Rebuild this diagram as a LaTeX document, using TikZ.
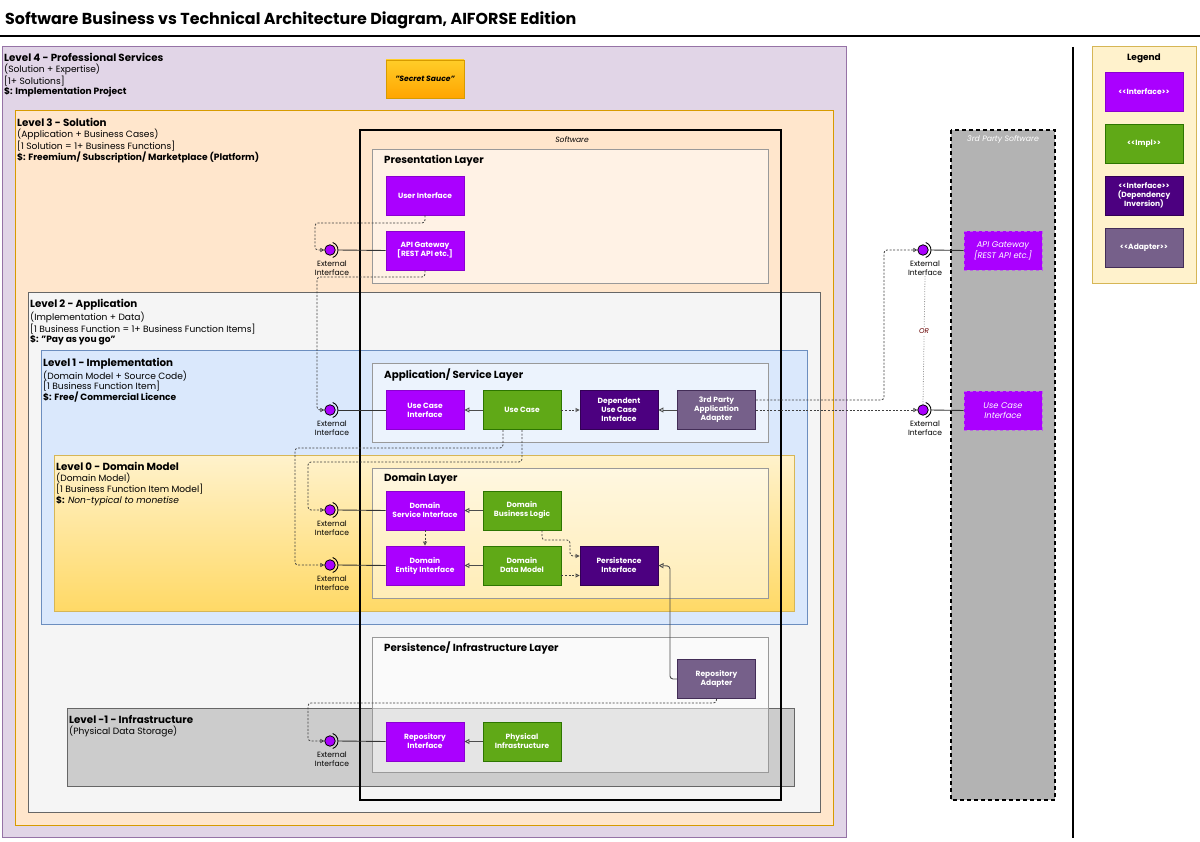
\documentclass[tikz,border=0pt]{standalone}
\usepackage{fontspec}
\setmainfont{Poppins}
\usetikzlibrary{arrows.meta}
\definecolor{ifc}{HTML}{AA00FF}
\definecolor{ifcd}{HTML}{8A00D0}
\definecolor{implc}{HTML}{60A917}
\definecolor{impld}{HTML}{2D7600}
\definecolor{dic}{HTML}{4C0080}
\definecolor{did}{HTML}{330055}
\definecolor{adc}{HTML}{76608A}
\definecolor{add}{HTML}{432D57}
\definecolor{lvfour}{HTML}{E1D5E7}
\definecolor{lvfourd}{HTML}{9673A6}
\definecolor{lvthree}{HTML}{FFE6CC}
\definecolor{lvthreed}{HTML}{D79B00}
\definecolor{lvtwo}{HTML}{F5F5F5}
\definecolor{lvtwod}{HTML}{666666}
\definecolor{lvone}{HTML}{DAE8FC}
\definecolor{lvoned}{HTML}{6C8EBF}
\definecolor{lvzeroa}{HTML}{FFF2CC}
\definecolor{lvzerob}{HTML}{FFD966}
\definecolor{lvzerod}{HTML}{D6B656}
\definecolor{lvm}{HTML}{CCCCCC}
\definecolor{third}{HTML}{B3B3B3}
\definecolor{legf}{HTML}{FFF2CC}
\definecolor{ordark}{HTML}{660000}
\definecolor{saucea}{HTML}{FFCD28}
\definecolor{sauceb}{HTML}{FFA500}
\newcommand{\lvheadfont}{\bfseries\fontsize{10.3}{10.7}\selectfont}
\newcommand{\ExtIf}[3]{%
  \node[eicirc] (#1) at (#2,#3) {};
  \draw[line width=0.9pt] (#2,#3) ++(70:8) arc[start angle=70,end angle=-70,radius=8];
  \node[eilabel] (#1l) at (#2+2,#3+18.5) {External\\Interface};
  \coordinate (#1s) at (#2+8,#3);
}
\begin{document}
\begin{tikzpicture}[x=1pt,y=-1pt,
  every node/.style={inner sep=0pt},
  comp/.style={rectangle, draw, line width=0.9pt, minimum width=78, minimum height=39,
    align=center, text=white, font=\bfseries\fontsize{7.5}{9}\selectfont},
  iface/.style={comp, fill=ifc, draw=ifcd},
  impl/.style={comp, fill=implc, draw=impld},
  dinv/.style={comp, fill=dic, draw=did},
  adapt/.style={comp, fill=adc, draw=add},
  tpiface/.style={comp, fill=ifc, draw=ifcd!60!white, dashed, font=\itshape\fontsize{8.3}{9.5}\selectfont},
  eicirc/.style={circle, draw=black, fill=ifc, line width=0.8pt, minimum size=10.5pt, inner sep=0pt},
  eilabel/.style={align=center, font=\fontsize{7.6}{9}\selectfont},
  lvtext/.style={anchor=north west, align=left, font=\fontsize{9.1}{10.7}\selectfont},
  ltitle/.style={anchor=west, font=\bfseries\fontsize{10.3}{11}\selectfont},
  layer/.style={draw=black!40, line width=1pt, fill=white, fill opacity=0.5},
  conn/.style={draw=black!80, line width=0.9pt},
  real/.style={draw=black!70, line width=0.9pt, -{Triangle[open,length=5pt,width=5pt]}},
  dep/.style={draw=black!75, line width=0.8pt, dash pattern=on 2pt off 1.6pt, rounded corners=3pt, -{Triangle[open,length=4pt,width=4pt]}}
]
\useasboundingbox (0,0) rectangle (1200,842);
\fill[white] (0,0) rectangle (1200,842);

% title
\node[anchor=west, font=\bfseries\fontsize{15.9}{18}\selectfont] (title) at (5,20) {Software Business vs Technical Architecture Diagram, AIFORSE Edition};
\draw[line width=2.5pt] (0,36) -- (1200,36);
\draw[line width=2.5pt] (1073,47) -- (1073,838);

% levels
\draw[fill=lvfour, draw=lvfourd, line width=1pt] (2,47) rectangle (846,837);
\node[lvtext] (l4t) at (4,53) {{\lvheadfont Level 4 - Professional Services}\\(Solution + Expertise)\\{[}1+ Solutions{]}\\\textbf{\$: Implementation Project}};

\draw[fill=lvthree, draw=lvthreed, line width=1pt] (15,111) rectangle (833,825);
\node[lvtext] (l3t) at (17,118.5) {{\lvheadfont Level 3 - Solution}\\(Application + Business Cases)\\{[}1 Solution = 1+ Business Functions{]}\\\textbf{\$: Freemium/ Subscription/ Marketplace (Platform)}};

\draw[fill=lvtwo, draw=lvtwod, line width=1pt] (28,293) rectangle (820,812);
\node[lvtext] (l2t) at (30,299.5) {{\lvheadfont Level 2 - Application}\\(Implementation + Data)\\{[}1 Business Function = 1+ Business Function Items{]}\\\textbf{\$: "Pay as you go"}};

\draw[fill=lvone, draw=lvoned, line width=1pt] (41,351) rectangle (807,624);
\node[lvtext] (l1t) at (43,358.5) {{\lvheadfont Level 1 - Implementation}\\(Domain Model + Source Code)\\{[}1 Business Function Item{]}\\\textbf{\$: Free/ Commercial Licence}};

\path[draw=lvzerod, line width=1pt, top color=lvzeroa, bottom color=lvzerob] (54,455) rectangle (794,611);
\node[lvtext] (l0t) at (56,462.5) {{\lvheadfont Level 0 - Domain Model}\\(Domain Model)\\{[}1 Business Function Item Model{]}\\\textbf{\$:} \textit{Non-typical to monetise}};

\draw[fill=lvm, draw=lvtwod, line width=1pt] (67,708) rectangle (794,786);
\node[lvtext] (lmt) at (69,715.5) {{\lvheadfont Level -1 - Infrastructure}\\(Physical Data Storage)};

% secret sauce
\node[draw=lvthreed, line width=0.8pt, top color=saucea, bottom color=sauceb, minimum width=78, minimum height=38,
  font=\bfseries\itshape\fontsize{7.6}{9}\selectfont] (sauce) at (425,79) {"Secret Sauce"};

% software
\draw[line width=1.5pt] (360,130) rectangle (781,800);
\node[font=\itshape\fontsize{7.6}{9}\selectfont] (swl) at (572,140) {Software};

% third party software
\draw[fill=third, draw=black, line width=1.3pt, dash pattern=on 4pt off 3pt] (951,130) rectangle (1055,800);
\node[font=\itshape\fontsize{7.8}{9}\selectfont, text=white] (tpl) at (1003,140) {3rd Party Software};

% legend
\draw[fill=legf, draw=lvzerod, line width=1pt] (1092,47) rectangle (1196,284);
\node[font=\bfseries\fontsize{9}{10}\selectfont] (legt) at (1144,58) {Legend};
\node[iface] (lg1) at (1144,91.5) {<{}<Interface>{}>};
\node[impl] (lg2) at (1144,143.5) {<{}<Impl>{}>};
\node[dinv] (lg3) at (1144,195.5) {<{}<Interface>{}>\\(Dependency\\Inversion)};
\node[adapt] (lg4) at (1144,247.5) {<{}<Adapter>{}>};

% layers
\path[layer] (372,150) rectangle (768,284);
\node[ltitle] (plt) at (384,161) {Presentation Layer};
\path[layer] (372,364) rectangle (768,442);
\node[ltitle] (alt) at (384,375) {Application/ Service Layer};
\path[layer] (372,468) rectangle (768,598);
\node[ltitle] (dlt) at (384,479) {Domain Layer};
\path[layer] (372,637) rectangle (768,772);
\node[ltitle] (ilt) at (384,648) {Persistence/ Infrastructure Layer};

% components
\node[iface] (ui) at (425,195.5) {User Interface};
\node[iface] (apig) at (425,250.5) {API Gateway\\{[}REST API etc.{]}};
\node[iface] (uci) at (425,410) {Use Case\\Interface};
\node[impl] (uc) at (522,410) {Use Case};
\node[dinv] (duci) at (619,410) {Dependent\\Use Case\\Interface};
\node[adapt] (tpa) at (716.5,410) {3rd Party\\Application\\Adapter};
\node[iface] (dsi) at (425,510.5) {Domain\\Service Interface};
\node[impl] (dbl) at (522,510.5) {Domain\\Business Logic};
\node[iface] (dei) at (425,565.5) {Domain\\Entity Interface};
\node[impl] (ddm) at (522,565.5) {Domain\\Data Model};
\node[dinv] (pi) at (619,565.5) {Persistence\\Interface};
\node[adapt] (ra) at (716.5,679) {Repository\\Adapter};
\node[iface] (ri) at (425,741.5) {Repository\\Interface};
\node[impl] (phi) at (522,741.5) {Physical\\Infrastructure};
\node[tpiface] (tapig) at (1003,250.5) {API Gateway\\{[}REST API etc.{]}};
\node[tpiface] (tuci) at (1003,410.5) {Use Case\\Interface};

% external interfaces
\ExtIf{e1}{330}{250}
\ExtIf{e2}{330}{410}
\ExtIf{e3}{330}{510}
\ExtIf{e4}{330}{565}
\ExtIf{e5}{330}{741}
\ExtIf{e6}{923}{250}
\ExtIf{e7}{923}{410}

% OR
\draw[draw=black!40, line width=0.8pt, dash pattern=on 1pt off 1.5pt] (e6l.south) -- (e7.north);
\node[fill=white, inner sep=1.5pt, text=ordark, font=\itshape\fontsize{7}{8}\selectfont] (orl) at (924,331) {OR};

% solid links from external interfaces
\draw[conn] (e1s) -- (apig.west);
\draw[conn] (e2s) -- (uci.west);
\draw[conn] (e3s) -- (dsi.west);
\draw[conn] (e4s) -- (dei.west);
\draw[conn] (e5s) -- (ri.west);
\draw[conn] (e6s) -- (tapig.west);
\draw[conn] (e7s) -- (tuci.west);

% realisation arrows
\draw[real] (uc.west) -- (uci.east);
\draw[real] (tpa.west) -- (duci.east);
\draw[real] (dbl.west) -- (dsi.east);
\draw[real] (ddm.west) -- (dei.east);
\draw[real] (phi.west) -- (ri.east);
\draw[real, rounded corners=3pt] (ra.west) -- (670,679) -- (670,566) -- (pi.east);

% dependency arrows
\draw[dep] (ui.south) -- (425,223) -- (315,223) -- (315,250) -- (e1.west);
\draw[dep] (apig.south) -- (425,277) -- (317,277) -- (317,410) -- (e2.west);
\draw[dep] ([xshift=-19]uc.south) -- (503,448) -- (295,448) -- (295,565) -- (e4.west);
\draw[dep] (uc.south) -- (522,462) -- (308,462) -- (308,510) -- (e3.west);
\draw[dep] (ra.south) -- (716.5,703) -- (308,703) -- (308,741) -- (e5.west);
\draw[dep] ([yshift=10]tpa.east) -- (884,400) -- (884,250) -- (e6.west);
\draw[dep] (tpa.east) -- (e7.west);
\draw[dep] (uc.east) -- (duci.west);
\draw[dep] (dsi.south) -- (dei.north);
\draw[dep] ([xshift=20]dbl.south) -- (542,540) -- (570,540) -- (570,556) -- ([yshift=9.5]pi.west);
\draw[dep] ([yshift=-10]ddm.east) -- ([yshift=-10]pi.west);
\end{tikzpicture}
\end{document}
